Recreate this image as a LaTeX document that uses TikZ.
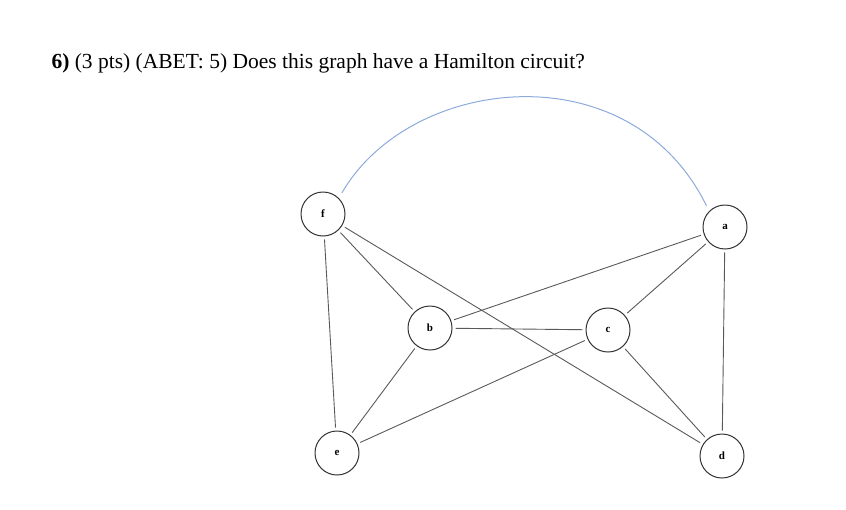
\documentclass[tikz,border=0pt]{standalone}
\usepackage{fontspec}
\setmainfont{Liberation Serif}
\begin{document}
\begin{tikzpicture}[x=1pt,y=-1pt,
  vert/.style={circle,draw=black!80,line width=1pt,minimum size=44pt,inner sep=0pt,font=\fontsize{11}{12}\selectfont\bfseries},
  edge/.style={draw=black!65,line width=0.9pt,shorten <=3pt,shorten >=3pt}]
\useasboundingbox (0,0) rectangle (846,509);
\node[anchor=west,font=\fontsize{21.5}{23}\selectfont] (title) at (48,63) {\textbf{6)} (3 pts) (ABET: 5) Does this graph have a Hamilton circuit?};
\node[vert] (f) at (323,214) {f};
\node[vert] (a) at (725,227) {a};
\node[vert] (b) at (430,328) {b};
\node[vert] (c) at (608,330) {c};
\node[vert] (e) at (337,453) {e};
\node[vert] (d) at (722,456) {d};
\draw[edge] (f) -- (e);
\draw[edge] (f) -- (b);
\draw[edge] (f) -- (d);
\draw[edge] (a) -- (b);
\draw[edge] (a) -- (c);
\draw[edge] (a) -- (d);
\draw[edge] (b) -- (c);
\draw[edge] (b) -- (e);
\draw[edge] (c) -- (e);
\draw[edge] (c) -- (d);
\draw[draw={rgb,255:red,140;green,170;blue,220},line width=1pt,shorten <=6pt,shorten >=6pt] (f.north east) .. controls (410,75) and (630,50) .. (a.north west);
\end{tikzpicture}
\end{document}
